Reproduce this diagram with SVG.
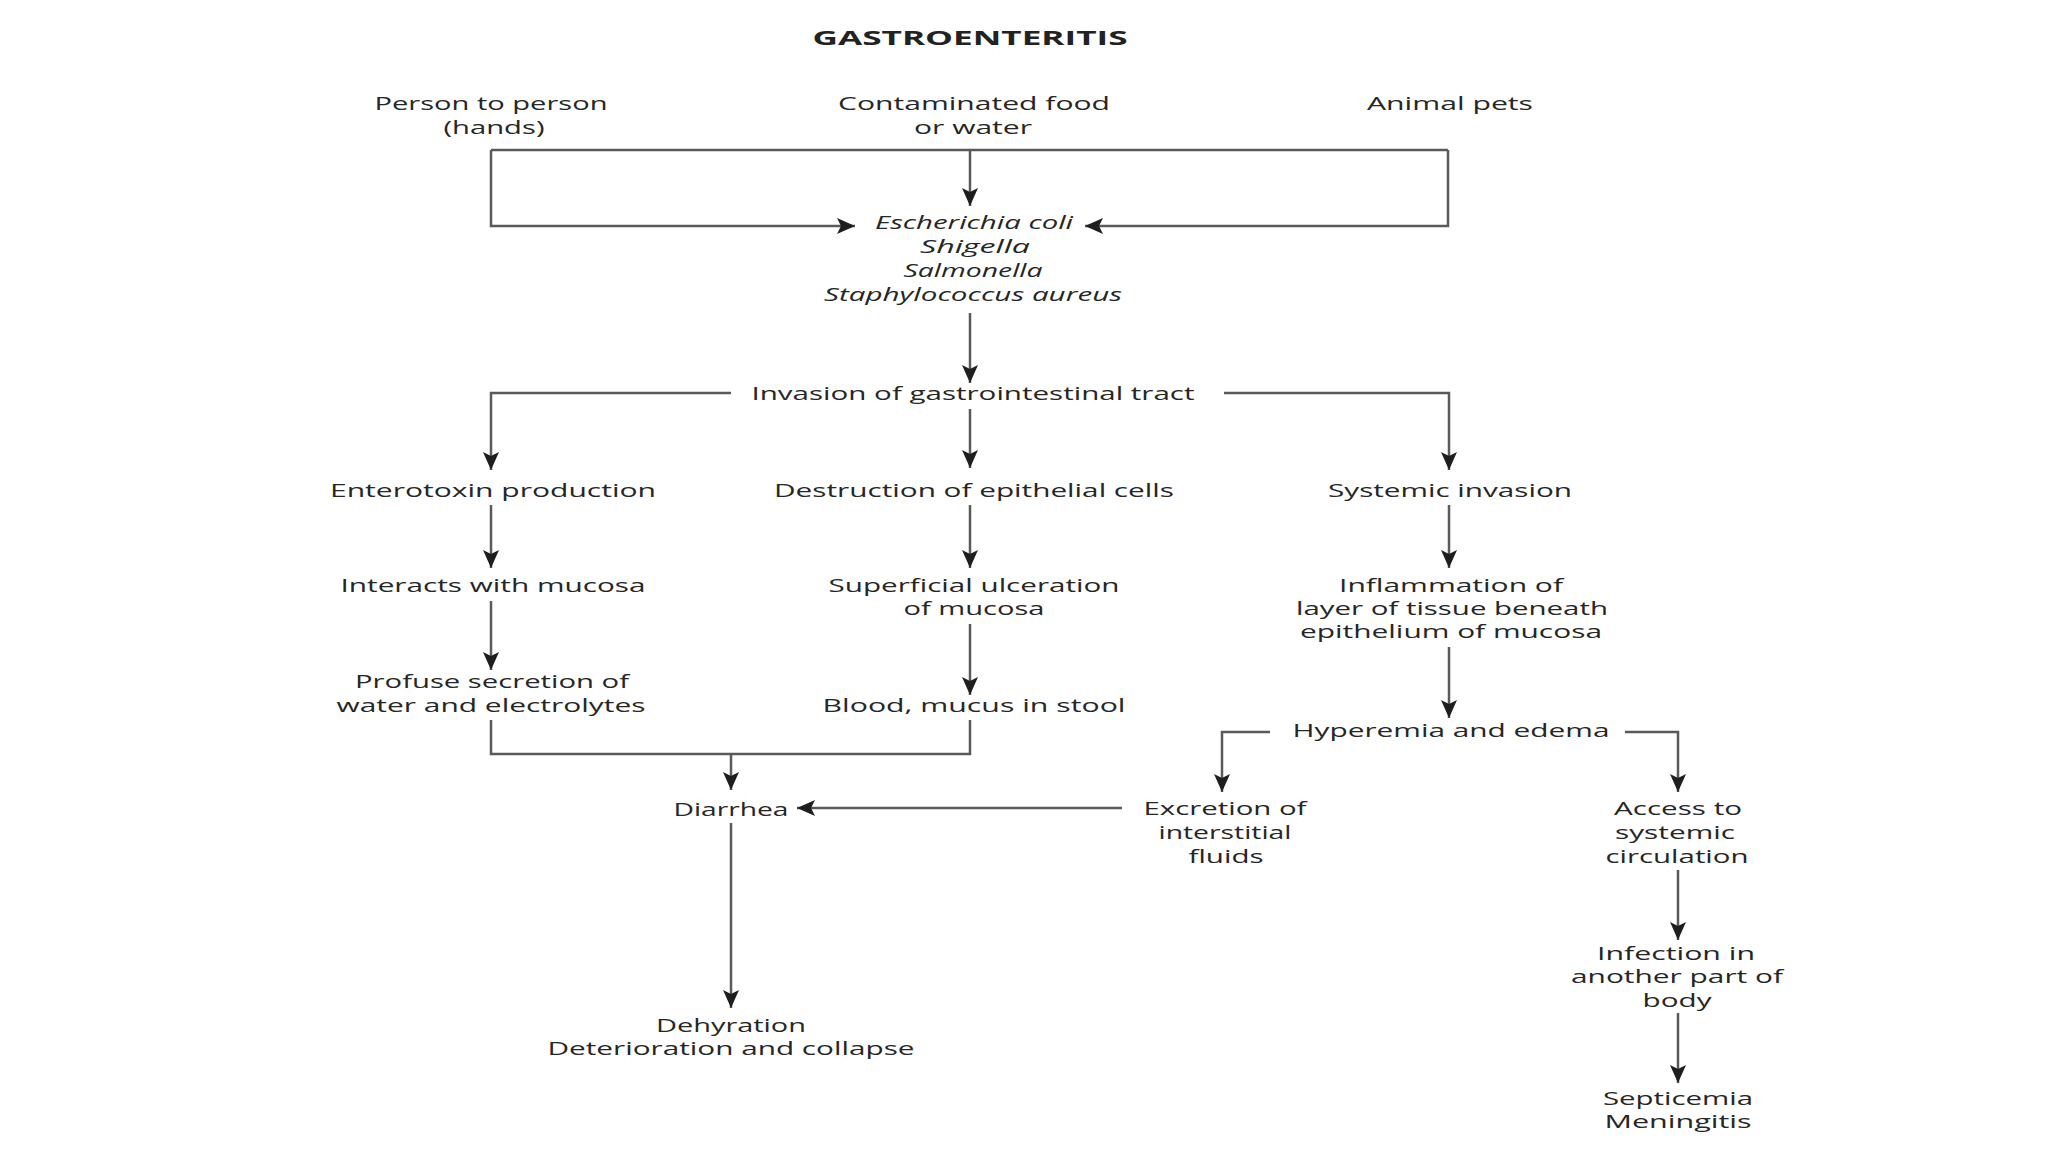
<svg xmlns="http://www.w3.org/2000/svg" width="2048" height="1152" viewBox="0 0 2048 1152">
<defs>
<style>
text{font-family:"Open Sans","Liberation Sans",sans-serif;font-size:18px;fill:#262626;text-anchor:middle}
.t{font-weight:bold;font-size:19px;fill:#222}
.i{font-style:italic}
.c{fill:none;stroke:#5a5a5a;stroke-width:2.5}
.a{marker-end:url(#ah)}
</style>
<marker id="ah" viewBox="0 0 18 16" refX="18" refY="8" markerWidth="18" markerHeight="16" orient="auto" markerUnits="userSpaceOnUse"><path d="M0,0 L18,8 L0,16 L4,8 z" fill="#1e1e1e"/></marker>
</defs>
<rect width="2048" height="1152" fill="#fff"/>
<g id="connectors">
<path class="c" d="M491,150 H1448"/>
<path class="c a" d="M491,150 V226 H855"/>
<path class="c a" d="M1448,150 V226 H1085"/>
<path class="c a" d="M970,150 V206"/>
<path class="c a" d="M970,313 V383"/>
<path class="c a" d="M731,393 H491 V470"/>
<path class="c a" d="M970,409 V468"/>
<path class="c a" d="M1224,393 H1449 V470"/>
<path class="c a" d="M491,505 V568"/>
<path class="c a" d="M970,505 V568"/>
<path class="c a" d="M1449,505 V568"/>
<path class="c a" d="M491,601 V670"/>
<path class="c a" d="M970,624 V695"/>
<path class="c a" d="M1449,647 V718"/>
<path class="c" d="M491,720 V754 H970 V720"/>
<path class="c a" d="M731,754 V790"/>
<path class="c a" d="M1270,732 H1222 V792"/>
<path class="c a" d="M1625,732 H1678 V792"/>
<path class="c a" d="M1122,808 H797"/>
<path class="c a" d="M731,823 V1008"/>
<path class="c a" d="M1678,870 V940"/>
<path class="c a" d="M1678,1013 V1083"/>
</g>
<g id="title"><text class="t" x="970" y="45" textLength="315" lengthAdjust="spacingAndGlyphs">GASTROENTERITIS</text></g>
<g id="person"><text x="491" y="110" textLength="233" lengthAdjust="spacingAndGlyphs">Person to person</text><text x="494" y="134" textLength="101" lengthAdjust="spacingAndGlyphs">(hands)</text></g>
<g id="food"><text x="974" y="110" textLength="272" lengthAdjust="spacingAndGlyphs">Contaminated food</text><text x="973" y="134" textLength="118" lengthAdjust="spacingAndGlyphs">or water</text></g>
<g id="pets"><text x="1450" y="110" textLength="166" lengthAdjust="spacingAndGlyphs">Animal pets</text></g>
<g id="bacteria">
<text class="i" x="974" y="229" textLength="198" lengthAdjust="spacingAndGlyphs">Escherichia coli</text>
<text class="i" x="975" y="253" textLength="110" lengthAdjust="spacingAndGlyphs">Shigella</text>
<text class="i" x="973" y="277" textLength="139" lengthAdjust="spacingAndGlyphs">Salmonella</text>
<text class="i" x="973" y="301" textLength="298" lengthAdjust="spacingAndGlyphs">Staphylococcus aureus</text>
</g>
<g id="invasion"><text x="973" y="400" textLength="443" lengthAdjust="spacingAndGlyphs">Invasion of gastrointestinal tract</text></g>
<g id="enterotoxin"><text x="493" y="497" textLength="326" lengthAdjust="spacingAndGlyphs">Enterotoxin production</text></g>
<g id="destruction"><text x="974" y="497" textLength="400" lengthAdjust="spacingAndGlyphs">Destruction of epithelial cells</text></g>
<g id="systemic"><text x="1450" y="497" textLength="244" lengthAdjust="spacingAndGlyphs">Systemic invasion</text></g>
<g id="interacts"><text x="493" y="592" textLength="305" lengthAdjust="spacingAndGlyphs">Interacts with mucosa</text></g>
<g id="ulceration"><text x="974" y="592" textLength="291" lengthAdjust="spacingAndGlyphs">Superficial ulceration</text><text x="974" y="615" textLength="141" lengthAdjust="spacingAndGlyphs">of mucosa</text></g>
<g id="inflammation"><text x="1451" y="592" textLength="224" lengthAdjust="spacingAndGlyphs">Inflammation of</text><text x="1452" y="615" textLength="312" lengthAdjust="spacingAndGlyphs">layer of tissue beneath</text><text x="1451" y="638" textLength="302" lengthAdjust="spacingAndGlyphs">epithelium of mucosa</text></g>
<g id="profuse"><text x="492" y="688" textLength="274" lengthAdjust="spacingAndGlyphs">Profuse secretion of</text><text x="491" y="712" textLength="309" lengthAdjust="spacingAndGlyphs">water and electrolytes</text></g>
<g id="blood"><text x="974" y="712" textLength="303" lengthAdjust="spacingAndGlyphs">Blood, mucus in stool</text></g>
<g id="hyperemia"><text x="1451" y="737" textLength="317" lengthAdjust="spacingAndGlyphs">Hyperemia and edema</text></g>
<g id="diarrhea"><text x="731" y="816" textLength="115" lengthAdjust="spacingAndGlyphs">Diarrhea</text></g>
<g id="excretion"><text x="1225" y="815" textLength="163" lengthAdjust="spacingAndGlyphs">Excretion of</text><text x="1225" y="839" textLength="133" lengthAdjust="spacingAndGlyphs">interstitial</text><text x="1226" y="863" textLength="75" lengthAdjust="spacingAndGlyphs">fluids</text></g>
<g id="access"><text x="1678" y="815" textLength="128" lengthAdjust="spacingAndGlyphs">Access to</text><text x="1675" y="839" textLength="120" lengthAdjust="spacingAndGlyphs">systemic</text><text x="1677" y="863" textLength="143" lengthAdjust="spacingAndGlyphs">circulation</text></g>
<g id="infection"><text x="1676" y="960" textLength="158" lengthAdjust="spacingAndGlyphs">Infection in</text><text x="1677" y="983" textLength="212" lengthAdjust="spacingAndGlyphs">another part of</text><text x="1677" y="1007" textLength="69" lengthAdjust="spacingAndGlyphs">body</text></g>
<g id="septicemia"><text x="1678" y="1105" textLength="150" lengthAdjust="spacingAndGlyphs">Septicemia</text><text x="1678" y="1128" textLength="147" lengthAdjust="spacingAndGlyphs">Meningitis</text></g>
<g id="dehydration"><text x="731" y="1032" textLength="150" lengthAdjust="spacingAndGlyphs">Dehyration</text><text x="731" y="1055" textLength="367" lengthAdjust="spacingAndGlyphs">Deterioration and collapse</text></g>
</svg>
